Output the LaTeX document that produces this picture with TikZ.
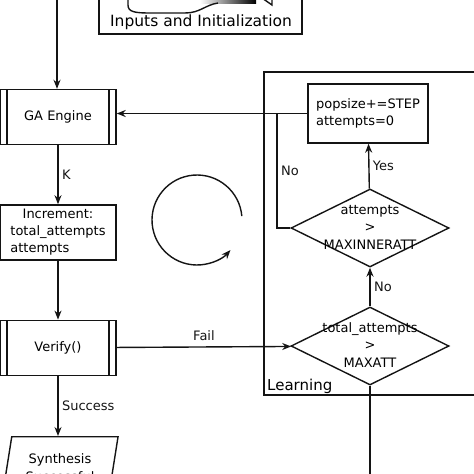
\documentclass[tikz,border=0pt]{standalone}
\usepackage{fontspec}
\setmainfont{DejaVu Sans}
\usetikzlibrary{shapes.geometric, arrows.meta, positioning}
\definecolor{linecolor}{RGB}{20, 20, 20}

\begin{document}
\begin{tikzpicture}[
    x=1pt, y=-1pt,
    node distance=59pt,
    box/.style={draw=linecolor, line width=1.4pt, minimum width=116pt, minimum height=55pt, inner sep=2pt, font=\fontsize{13}{17}\selectfont, align=center},
    proc/.style={box, path picture={
        \draw[linecolor, line width=1.4pt] ([xshift=7pt]path picture bounding box.north west) -- ([xshift=7pt]path picture bounding box.south west);
        \draw[linecolor, line width=1.4pt] ([xshift=-7pt]path picture bounding box.north east) -- ([xshift=-7pt]path picture bounding box.south east);}},
    decision/.style={diamond, draw=linecolor, line width=1.4pt, minimum width=158pt, minimum height=78pt, inner sep=0pt, font=\fontsize{13}{17.5}\selectfont},
    outcome/.style={trapezium, trapezium stretches=true, trapezium left angle=76, trapezium right angle=104, draw=linecolor, line width=1.4pt, minimum width=117pt, minimum height=62pt, inner sep=0pt, font=\fontsize{13}{18}\selectfont, align=center},
    arrow/.style={-{Stealth[length=9pt, width=7pt]}, line width=1.4pt, linecolor},
    line/.style={line width=1.4pt, linecolor},
    lbl/.style={font=\fontsize{13}{16}\selectfont}
]
    \useasboundingbox (0,0) rectangle (474,474);

    % Inputs box at the top (cut by the page)
    \draw[line] (99,-5) rectangle (302,34);
    \shade[left color=white, right color=black] (200,-2) rectangle (256,3);
    \draw[line] (128,-2) -- (128,5) .. controls (128,12) and (135,13) .. (150,13) -- (185,13) .. controls (200,13) and (205,5) .. (218,3);
    \draw[line] (262,-2) -- (272,5) -- (272,-2);
    \node[font=\fontsize{15.5}{18}\selectfont] (inputs) at (201,22) {Inputs and Initialization};

    % Learning frame
    \draw[line] (264,72) rectangle (476,395);
    \node[anchor=south west, inner sep=1pt, font=\fontsize{15}{18}\selectfont] (learning) at (266,395) {Learning};

    % Nodes - left column
    \node[proc] (ga) at (58,117) {GA Engine};
    \node[box, below=of ga] (inc) {\begin{tabular}{@{}l@{}}\multicolumn{1}{@{}c@{}}{Increment:}\\total\_attempts\\attempts\end{tabular}};
    \node[proc, below=of inc] (verify) {Verify()};
    \node[outcome, below=60pt of verify, xshift=2pt] (synth) {Synthesis\\Successful};

    % Nodes - learning loop
    \node[box, minimum width=120pt, minimum height=59pt, align=left] (pop) at (368,113.5) {popsize+=STEP\\attempts=0};
    \node[decision] (inner) at (370,228) {\makebox[0pt]{\begin{tabular}{@{}c@{}}attempts\\>\\MAXINNERATT\end{tabular}}};
    \node[decision] (outer) at (370,346) {\makebox[0pt]{\begin{tabular}{@{}c@{}}total\_attempts\\>\\MAXATT\end{tabular}}};

    % Free ends
    \coordinate (entry) at (57,-5);
    \coordinate (join) at (277,113.5);
    \coordinate (exit) at (370,480);

    % Arrows
    \draw[arrow] (entry) -- (entry |- ga.north);
    \draw[arrow] (ga) -- (inc) node[midway, right, lbl] {K};
    \draw[arrow] (inc) -- (verify);
    \draw[arrow] (verify.south) -- (verify.south |- synth.north) node[midway, right, lbl] {Success};
    \draw[arrow] (verify) -- (outer) node[midway, above, lbl, yshift=2pt] {Fail};
    \draw[arrow] (outer) -- (inner) node[midway, right, lbl] {No};
    \draw[arrow] (inner) -- (pop) node[midway, right, lbl] {Yes};
    \draw[arrow] (pop.west) -- (pop.west -| ga.east);
    \draw[line] (inner.west) -| (join) node[pos=0.75, right, lbl] {No};
    \draw[line] (outer.south) -- (exit);

    % Loop sign
    \draw[arrow] (197,220) ++(5:45pt) arc[start angle=5, end angle=318, radius=45pt];
\end{tikzpicture}
\end{document}
